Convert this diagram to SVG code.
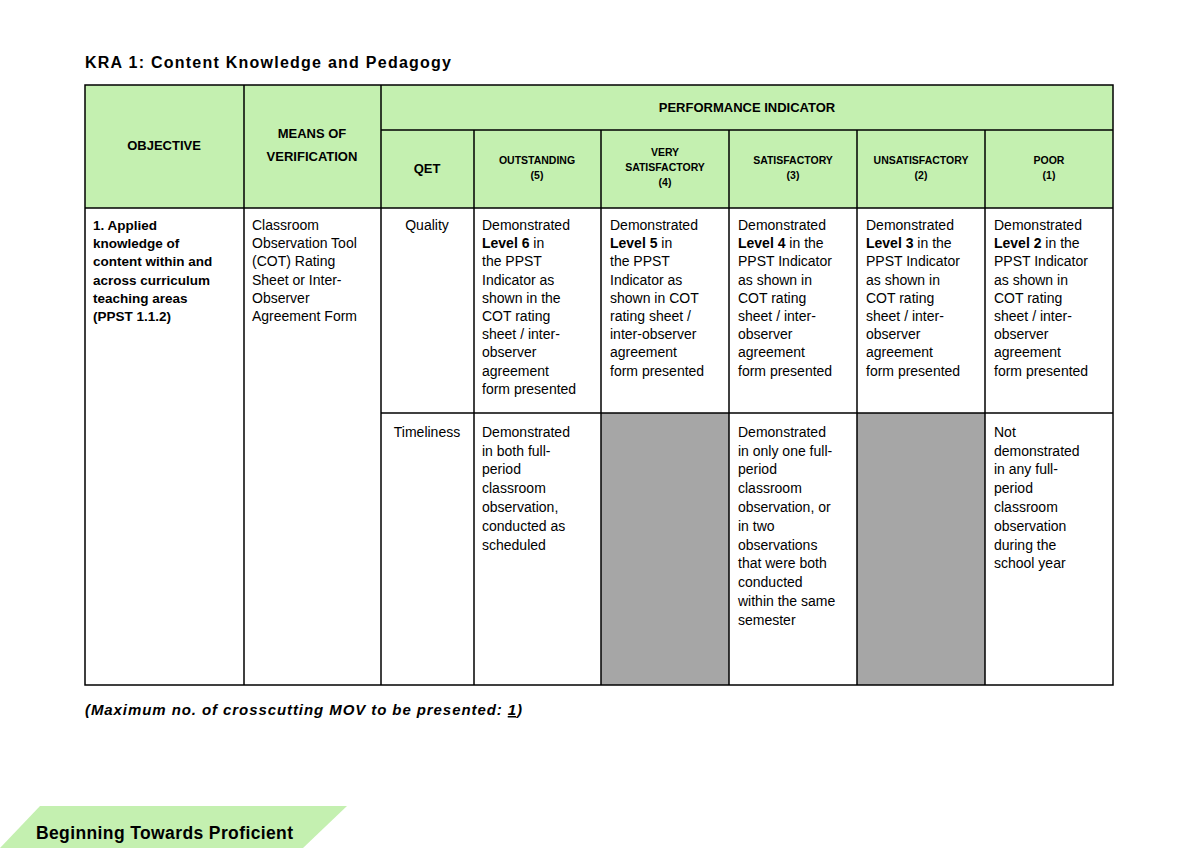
<svg xmlns="http://www.w3.org/2000/svg" width="1200" height="848" viewBox="0 0 1200 848">
<style>
text{font-family:"Liberation Sans",Arial,sans-serif;fill:#000}
.b{font-size:14px}
.h{font-size:13px;font-weight:bold}
.s{font-size:10.5px;font-weight:bold}
.g{fill:#c4f0b0}
.ln{stroke:#000;stroke-width:1.5;fill:none}
</style>
<rect width="1200" height="848" fill="#fff"/>
<text x="85" y="68" font-size="16" font-weight="bold" textLength="366" lengthAdjust="spacing">KRA 1: Content Knowledge and Pedagogy</text>
<g id="header">
<rect class="g" x="85" y="85" width="1028" height="123"/>
<text class="h" x="164" y="150" text-anchor="middle">OBJECTIVE</text>
<text class="h" x="312" y="138" text-anchor="middle">MEANS OF</text>
<text class="h" x="312" y="161" text-anchor="middle">VERIFICATION</text>
<text class="h" x="747" y="112" text-anchor="middle">PERFORMANCE INDICATOR</text>
<text class="h" x="427" y="173" text-anchor="middle">QET</text>
<g class="s" text-anchor="middle">
<text class="s" x="537" y="164">OUTSTANDING</text><text class="s" x="537" y="179">(5)</text>
<text class="s" x="665" y="156">VERY</text><text class="s" x="665" y="171">SATISFACTORY</text><text class="s" x="665" y="186">(4)</text>
<text class="s" x="793" y="164">SATISFACTORY</text><text class="s" x="793" y="179">(3)</text>
<text class="s" x="921" y="164">UNSATISFACTORY</text><text class="s" x="921" y="179">(2)</text>
<text class="s" x="1049" y="164">POOR</text><text class="s" x="1049" y="179">(1)</text>
</g>
</g>
<g id="shaded">
<rect x="601" y="413" width="128" height="272" fill="#a6a6a6"/>
<rect x="857" y="413" width="128" height="272" fill="#a6a6a6"/>
</g>
<g id="grid" class="ln">
<rect x="85" y="85" width="1028" height="600"/>
<line x1="85" y1="208" x2="1113" y2="208"/>
<line x1="381" y1="130" x2="1113" y2="130"/>
<line x1="381" y1="413" x2="1113" y2="413"/>
<line x1="244" y1="85" x2="244" y2="685"/>
<line x1="381" y1="85" x2="381" y2="685"/>
<line x1="474" y1="130" x2="474" y2="685"/>
<line x1="601" y1="130" x2="601" y2="685"/>
<line x1="729" y1="130" x2="729" y2="685"/>
<line x1="857" y1="130" x2="857" y2="685"/>
<line x1="985" y1="130" x2="985" y2="685"/>
</g>
<g id="objective" font-size="13.5" font-weight="bold">
<text x="93" y="230">1. Applied</text><text x="93" y="248">knowledge of</text><text x="93" y="266">content within and</text><text x="93" y="285">across curriculum</text><text x="93" y="303">teaching areas</text><text x="93" y="321">(PPST 1.1.2)</text>
</g>
<g id="mov" class="b">
<text class="b" x="252" y="230">Classroom</text><text class="b" x="252" y="248">Observation Tool</text><text class="b" x="252" y="266">(COT) Rating</text><text class="b" x="252" y="285">Sheet or Inter-</text><text class="b" x="252" y="303">Observer</text><text class="b" x="252" y="321">Agreement Form</text>
</g>
<g id="quality">
<text class="b" x="427" y="230" text-anchor="middle">Quality</text>
<text class="b" x="482" y="230">Demonstrated</text><text class="b" x="482" y="248"><tspan font-weight="bold">Level 6</tspan> in</text><text class="b" x="482" y="266">the PPST</text><text class="b" x="482" y="285">Indicator as</text><text class="b" x="482" y="303">shown in the</text><text class="b" x="482" y="321">COT rating</text><text class="b" x="482" y="339">sheet / inter-</text><text class="b" x="482" y="357">observer</text><text class="b" x="482" y="376">agreement</text><text class="b" x="482" y="394">form presented</text>
<text class="b" x="610" y="230">Demonstrated</text><text class="b" x="610" y="248"><tspan font-weight="bold">Level 5</tspan> in</text><text class="b" x="610" y="266">the PPST</text><text class="b" x="610" y="285">Indicator as</text><text class="b" x="610" y="303">shown in COT</text><text class="b" x="610" y="321">rating sheet /</text><text class="b" x="610" y="339">inter-observer</text><text class="b" x="610" y="357">agreement</text><text class="b" x="610" y="376">form presented</text>
<text class="b" x="738" y="230">Demonstrated</text><text class="b" x="738" y="248"><tspan font-weight="bold">Level 4</tspan> in the</text><text class="b" x="738" y="266">PPST Indicator</text><text class="b" x="738" y="285">as shown in</text><text class="b" x="738" y="303">COT rating</text><text class="b" x="738" y="321">sheet / inter-</text><text class="b" x="738" y="339">observer</text><text class="b" x="738" y="357">agreement</text><text class="b" x="738" y="376">form presented</text>
<text class="b" x="866" y="230">Demonstrated</text><text class="b" x="866" y="248"><tspan font-weight="bold">Level 3</tspan> in the</text><text class="b" x="866" y="266">PPST Indicator</text><text class="b" x="866" y="285">as shown in</text><text class="b" x="866" y="303">COT rating</text><text class="b" x="866" y="321">sheet / inter-</text><text class="b" x="866" y="339">observer</text><text class="b" x="866" y="357">agreement</text><text class="b" x="866" y="376">form presented</text>
<text class="b" x="994" y="230">Demonstrated</text><text class="b" x="994" y="248"><tspan font-weight="bold">Level 2</tspan> in the</text><text class="b" x="994" y="266">PPST Indicator</text><text class="b" x="994" y="285">as shown in</text><text class="b" x="994" y="303">COT rating</text><text class="b" x="994" y="321">sheet / inter-</text><text class="b" x="994" y="339">observer</text><text class="b" x="994" y="357">agreement</text><text class="b" x="994" y="376">form presented</text>
</g>
<g id="timeliness">
<text class="b" x="427" y="437" text-anchor="middle">Timeliness</text>
<text class="b" x="482" y="437">Demonstrated</text><text class="b" x="482" y="456">in both full-</text><text class="b" x="482" y="474">period</text><text class="b" x="482" y="493">classroom</text><text class="b" x="482" y="512">observation,</text><text class="b" x="482" y="531">conducted as</text><text class="b" x="482" y="550">scheduled</text>
<text class="b" x="738" y="437">Demonstrated</text><text class="b" x="738" y="456">in only one full-</text><text class="b" x="738" y="474">period</text><text class="b" x="738" y="493">classroom</text><text class="b" x="738" y="512">observation, or</text><text class="b" x="738" y="531">in two</text><text class="b" x="738" y="550">observations</text><text class="b" x="738" y="568">that were both</text><text class="b" x="738" y="587">conducted</text><text class="b" x="738" y="606">within the same</text><text class="b" x="738" y="625">semester</text>
<text class="b" x="994" y="437">Not</text><text class="b" x="994" y="456">demonstrated</text><text class="b" x="994" y="474">in any full-</text><text class="b" x="994" y="493">period</text><text class="b" x="994" y="512">classroom</text><text class="b" x="994" y="531">observation</text><text class="b" x="994" y="550">during the</text><text class="b" x="994" y="568">school year</text>
</g>
<text x="85" y="715" font-size="15" font-weight="bold" font-style="italic" textLength="437" lengthAdjust="spacing">(Maximum no. of crosscutting MOV to be presented: <tspan text-decoration="underline">1</tspan>)</text>
<g id="footer">
<polygon points="40,806 347,806 303,848 0,848" fill="#c4f0b0"/>
<text x="36" y="839" font-size="17.5" font-weight="bold" textLength="257" lengthAdjust="spacing">Beginning Towards Proficient</text>
</g>
</svg>
